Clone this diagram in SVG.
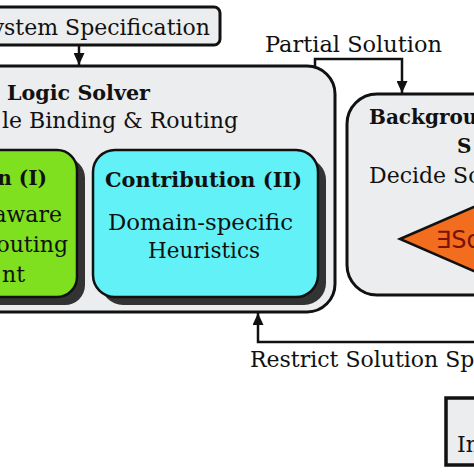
<svg xmlns="http://www.w3.org/2000/svg" width="474" height="474" viewBox="0 0 474 474">
<defs>
<marker id="arr" markerUnits="userSpaceOnUse" markerWidth="12" markerHeight="11" refX="12" refY="5.5" orient="auto">
<path d="M0,0 L12,5.5 L0,11 z" fill="#111"/>
</marker>
<style>
.box{fill:#ebedee;stroke:#111;stroke-width:3}
.inner{stroke:#111;stroke-width:2.5}
.shadow{fill:#333}
.t{font-family:"DejaVu Serif","Liberation Serif",serif;font-size:22px;fill:#111}
.b{font-family:"DejaVu Serif","Liberation Serif",serif;font-size:20px;font-weight:bold;fill:#111}
.conn{fill:none;stroke:#111;stroke-width:2.5}
</style>
</defs>
<rect width="474" height="474" fill="#fff"/>

<g id="system-spec">
<rect class="box" x="-20" y="7" width="240" height="38" rx="6" stroke-width="2.5"/>
<text class="t" x="210" y="35" text-anchor="end">ystem Specification</text>
</g>

<g id="logic-solver">
<rect class="box" x="-40" y="66" width="375" height="246" rx="28"/>
<text class="b" x="7" y="100" textLength="143" lengthAdjust="spacingAndGlyphs">Logic Solver</text>
<text class="t" x="2" y="128" textLength="236" lengthAdjust="spacingAndGlyphs">le Binding &amp; Routing</text>
</g>

<g id="contribution-1">
<rect class="shadow" x="-32" y="158" width="117" height="147" rx="20"/>
<rect class="inner" x="-40" y="150" width="117" height="147" rx="20" fill="#7ee01e"/>
<text class="b" x="47" y="185" text-anchor="end">n (I)</text>
<text class="t" x="62" y="222" text-anchor="end">aware</text>
<text class="t" x="68" y="252" text-anchor="end">outing</text>
<text class="t" x="25" y="282" text-anchor="end">nt</text>
</g>

<g id="contribution-2">
<rect class="shadow" x="101" y="158" width="225" height="147" rx="22"/>
<rect class="inner" x="93" y="150" width="225" height="147" rx="22" fill="#62f1f6"/>
<text class="b" x="203.5" y="187" text-anchor="middle" textLength="197" lengthAdjust="spacingAndGlyphs">Contribution (II)</text>
<text class="t" x="200.5" y="230" text-anchor="middle" textLength="185" lengthAdjust="spacingAndGlyphs">Domain-specific</text>
<text class="t" x="204" y="258" text-anchor="middle" textLength="112" lengthAdjust="spacingAndGlyphs">Heuristics</text>
</g>

<g id="background-solver">
<rect class="box" x="347" y="94" width="200" height="201" rx="30"/>
<text class="b" x="369" y="124">Backgrou</text>
<text class="b" x="457" y="153">S</text>
<text class="t" x="369" y="183" font-size="21">Decide So</text>
<polygon points="400,239 520,187 640,239 520,291" fill="#f36d1e" stroke="#111" stroke-width="2.5"/>
<text x="436" y="248" font-family="DejaVu Sans,Liberation Sans,sans-serif" font-size="24" fill="#7a1408">∃So</text>
</g>

<g id="bottom-box">
<rect x="446" y="398" width="60" height="67" fill="#ebedee" stroke="#111" stroke-width="3.5"/>
<text class="t" x="457" y="452">In</text>
</g>

<g id="connectors">
<line class="conn" x1="79" y1="45" x2="79" y2="65" marker-end="url(#arr)"/>
<polyline class="conn" points="315,67 315,59 402,59 402,93" marker-end="url(#arr)"/>
<polyline class="conn" points="480,342 258,342 258,313" marker-end="url(#arr)"/>
<text class="t" x="265" y="52" textLength="177" lengthAdjust="spacingAndGlyphs">Partial Solution</text>
<text class="t" x="250" y="367" font-size="21.5">Restrict Solution Sp</text>
</g>
</svg>
